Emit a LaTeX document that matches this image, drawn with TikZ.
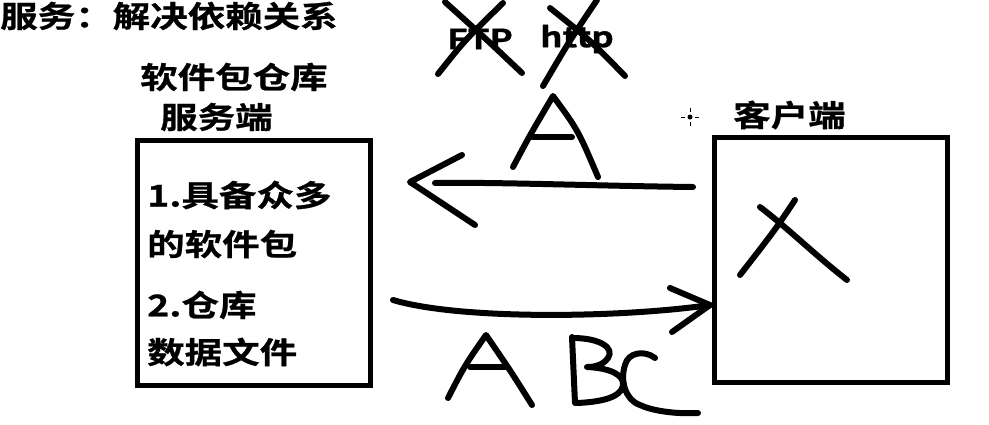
\documentclass[tikz,border=0pt]{standalone}
\usepackage{fontspec}
\newfontfamily\cjk[FakeStretch=1.25,FakeBold=0.8]{Noto Sans CJK SC Bold}
\begin{document}
\begin{tikzpicture}[x=1pt,y=-1pt,
  ink/.style={line width=6pt,line cap=round,line join=round},
  lbl/.style={font=\cjk\fontsize{30}{32}\selectfont,inner sep=0pt,anchor=west},
  box/.style={draw,line width=5pt,rectangle,minimum width=233pt,minimum height=245pt,inner sep=0pt}]
\useasboundingbox[fill=white] (0,0) rectangle (989,424);
% titles
\node[lbl] (title) at (0,16) {服务：解决依赖关系};
\node[lbl] (repo1) at (140,77) {软件包仓库};
\node[lbl] (repo2) at (160,117) {服务端};
\node[lbl] (cli) at (733,115) {客户端};
% boxes
\node[box] (server) at (254,263) {};
\node[box] (client) at (831,260) {};
% server text
\node[lbl] (t1) at (147,195) {1.具备众多};
\node[lbl] (t2) at (147,244) {的软件包};
\node[lbl] (t3) at (147,305) {2.仓库};
\node[lbl] (t4) at (147,352) {数据文件};
% protocols
\node[lbl,font=\cjk\fontsize{28}{30}\selectfont] (ftp) at (447,39) {FTP};
\node[lbl,font=\cjk\fontsize{28}{30}\selectfont] (http) at (540,39) {http};
% crossing out
\draw[ink] (438,74) .. controls (465,40) .. (503,3);
\draw[ink] (445,2) .. controls (485,38) .. (522,73);
\draw[ink] (543,86) .. controls (570,40) .. (597,0);
\draw[ink] (550,8) .. controls (590,40) .. (625,76);
% upper arrow (client -> server)
\coordinate (ua1) at (693,187);
\coordinate (ua2) at (435,183);
\coordinate (uatip) at (410,182);
\draw[ink] (ua1) .. controls (600,186) and (500,182) .. (ua2);
\draw[ink] (462,155) -- (uatip) -- (475,225);
% upper A
\draw[ink] (513,167) .. controls (530,135) .. (553,96) .. controls (578,130) .. (598,177);
\draw[ink] (532,137) -- (572,137);
% lower arrow (server -> client)
\coordinate (la1) at (393,300);
\coordinate (latip) at (710,305);
\draw[ink] (la1) .. controls (460,320) and (620,318) .. (latip);
\draw[ink] (670,288) -- (latip) -- (672,332);
% lower A
\draw[ink] (448,398) .. controls (465,365) .. (486,335) .. controls (510,370) .. (532,405);
\draw[ink] (470,367) -- (507,367);
% B
\draw[ink] (572,337) -- (575,403);
\draw[ink] (573,338) .. controls (600,338) and (615,348) .. (608,358) .. controls (603,365) and (595,367) .. (587,367)
  .. controls (610,368) and (625,375) .. (623,386) .. controls (620,398) and (600,402) .. (577,403);
% C
\draw[ink] (655,358) .. controls (645,350) and (628,352) .. (625,365) .. controls (620,380) and (625,400) .. (640,405)
  .. controls (655,412) and (680,414) .. (698,413);
% client X
\draw[ink] (795,200) .. controls (775,230) .. (740,275);
\draw[ink] (760,207) .. controls (790,230) and (815,255) .. (847,280);
% cursor mark
\fill (690,117) circle (2.5pt);
\draw[line width=0.8pt] (681,117) -- (685,117) (695,117) -- (699,117) (690,108) -- (690,112) (690,122) -- (690,126);
\end{tikzpicture}
\end{document}
